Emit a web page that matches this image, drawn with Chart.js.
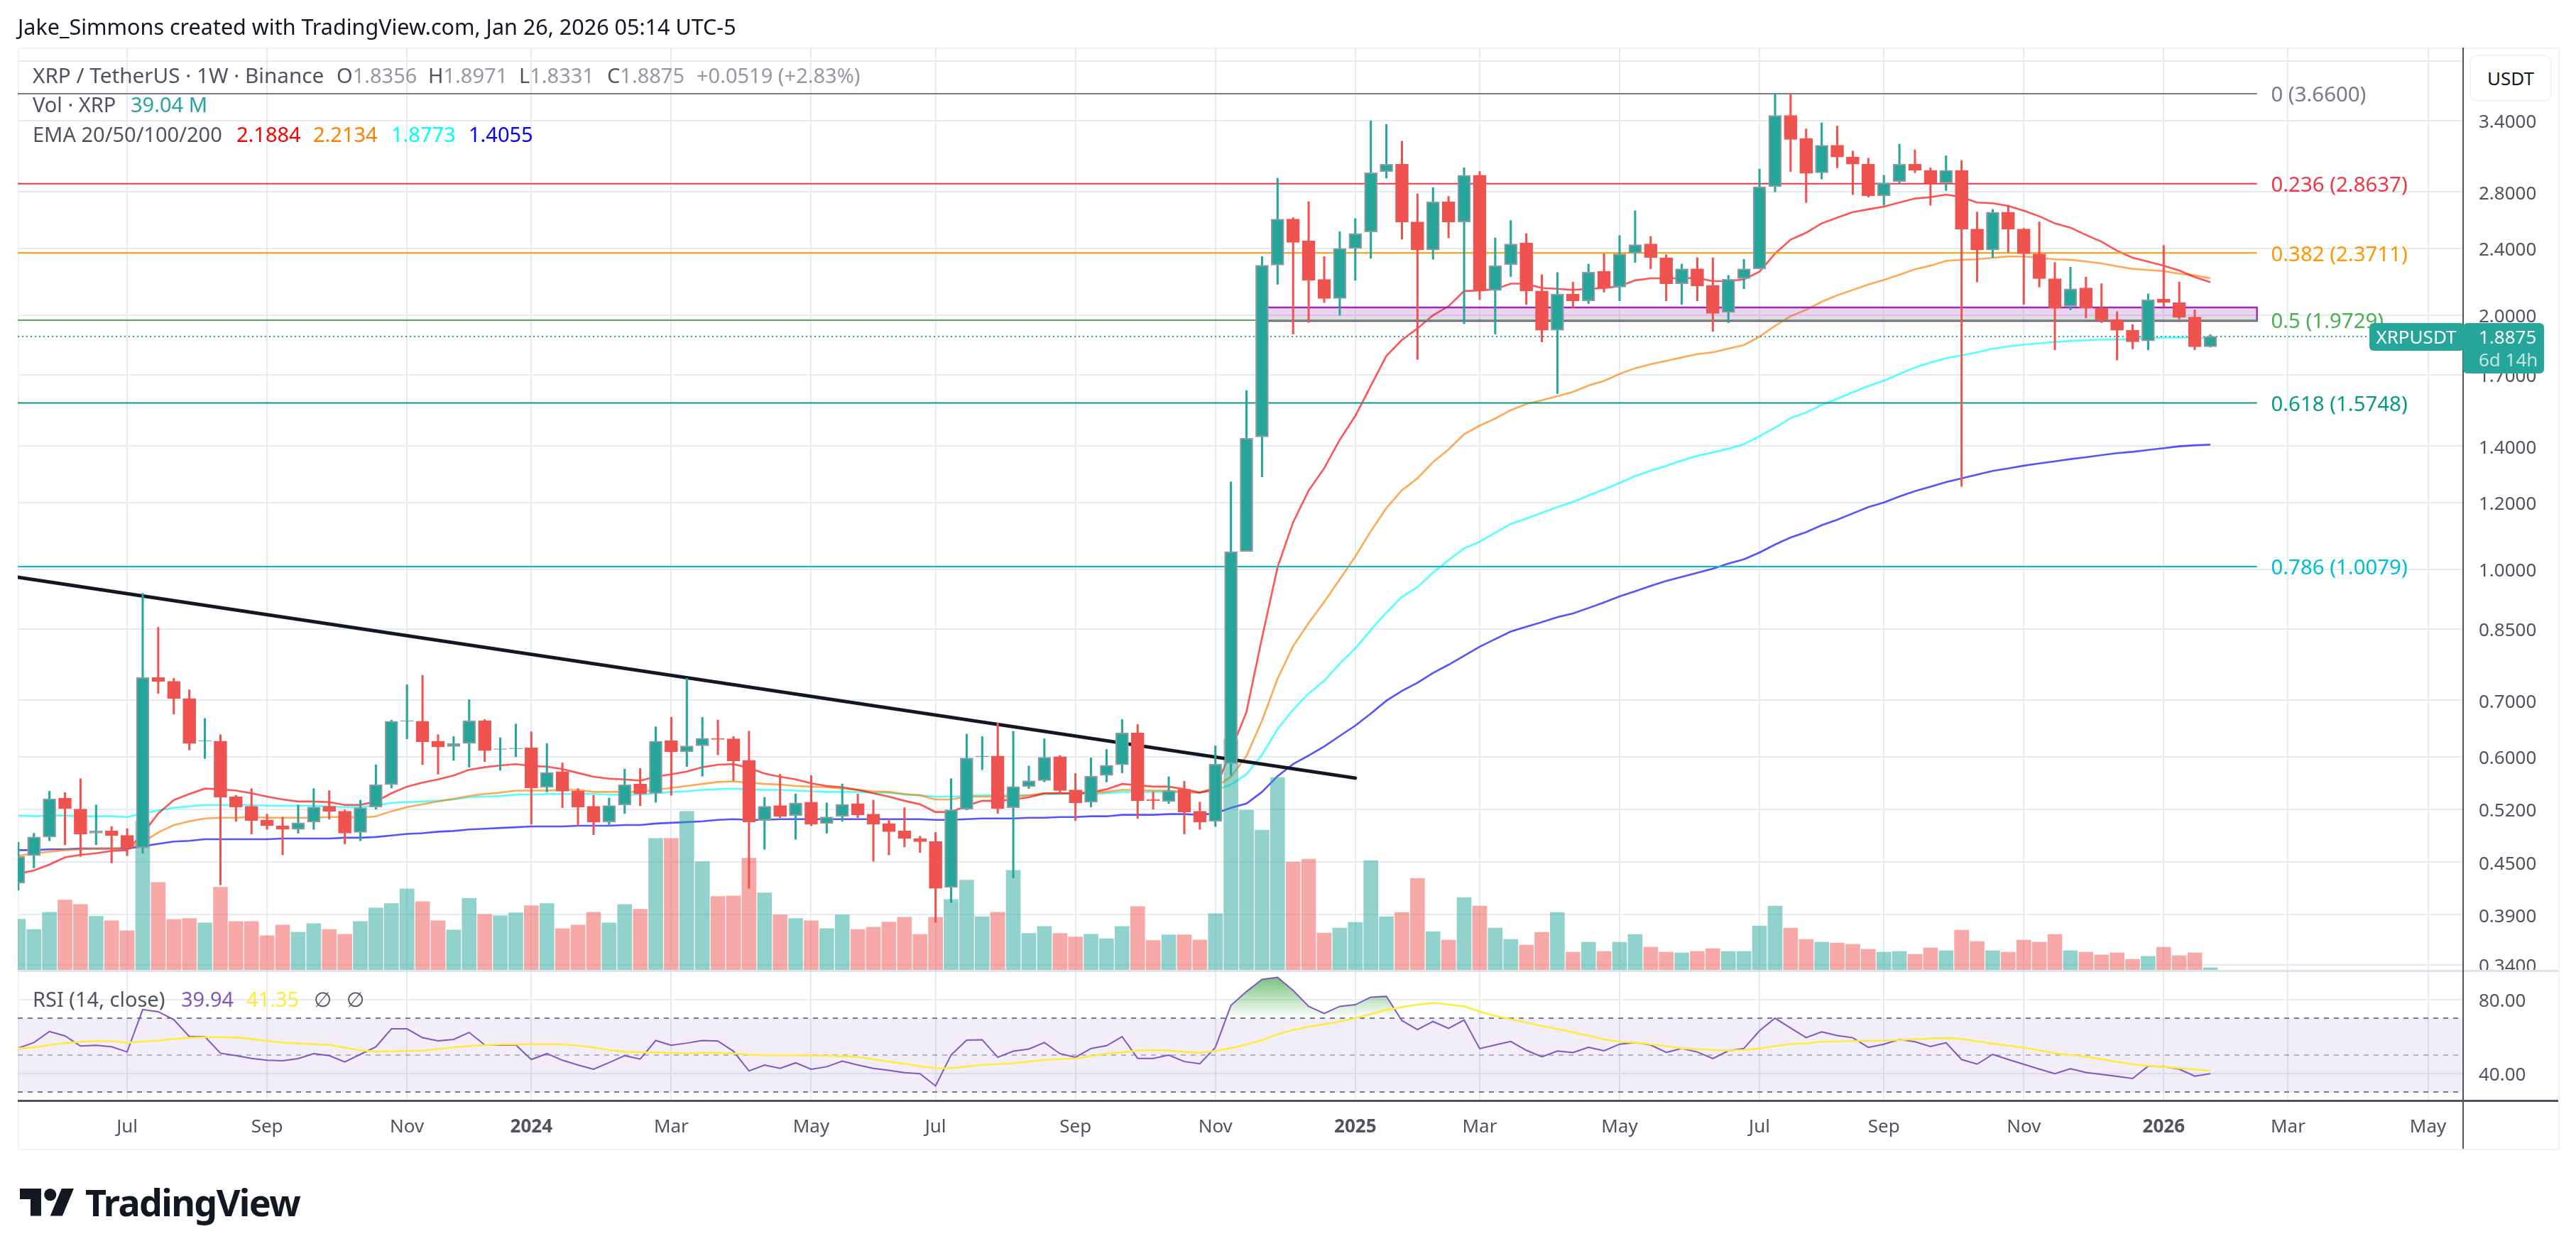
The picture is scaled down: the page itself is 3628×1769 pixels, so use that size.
<!DOCTYPE html>
<html><head><meta charset="utf-8">
<title>XRP / TetherUS</title>
<script src="https://cdn.jsdelivr.net/npm/chart.js@4"></script>
<style>
html,body{margin:0;padding:0;background:#fff;overflow:hidden}
#wrap{position:relative;width:3628px;height:1769px;font-family:"Noto Sans",sans-serif}
canvas{position:absolute;left:0;top:0}
.t{position:absolute;white-space:pre;line-height:1;font-size:29px;color:#50535e}
.g{color:#9598a1}
#frame{position:absolute;left:25px;top:67px;width:3576px;height:1549px;border:2px solid #f0f3fa}
#usdt{position:absolute;left:3478px;top:77px;width:112px;height:62px;background:#fff;border:2px solid #f0f3fa;border-radius:10px;text-align:center;line-height:62px;font-size:26px;color:#131722}
</style></head><body>
<div id="wrap">
<div id="frame"></div>
<canvas id="c" width="3628" height="1769"></canvas>
<div class="t" style="left:25px;top:22px;color:#131722;font-size:30.5px">Jake_Simmons created with TradingView.com, Jan 26, 2026 05:14 UTC-5</div>
<div class="t" style="left:46px;top:91px;font-size:29.7px">XRP / TetherUS · 1W · Binance</div>
<div class="t" style="left:474px;top:91px">O<span class="g">1.8356</span></div>
<div class="t" style="left:603px;top:91px">H<span class="g">1.8971</span></div>
<div class="t" style="left:731px;top:91px">L<span class="g">1.8331</span></div>
<div class="t" style="left:855px;top:91px">C<span class="g">1.8875</span></div>
<div class="t g" style="left:981px;top:91px">+0.0519 (+2.83%)</div>
<div class="t" style="left:46px;top:132px">Vol · XRP</div>
<div class="t" style="left:184px;top:132px;color:#26a69a">39.04 M</div>
<div class="t" style="left:46px;top:174px">EMA 20/50/100/200</div>
<div class="t" style="left:333px;top:174px;color:#ff0000">2.1884</div>
<div class="t" style="left:441px;top:174px;color:#ff7f00">2.2134</div>
<div class="t" style="left:551px;top:174px;color:#00ffff">1.8773</div>
<div class="t" style="left:660px;top:174px;color:#0000ff">1.4055</div>
<div class="t" style="left:46px;top:1392px">RSI (14, close)</div>
<div class="t" style="left:255px;top:1392px;color:#7e57c2">39.94</div>
<div class="t" style="left:347px;top:1392px;color:#ffeb3b">41.35</div>
<div class="t" style="left:442px;top:1392px">∅</div>
<div class="t" style="left:488px;top:1392px">∅</div>
<div id="usdt">USDT</div>
<svg style="position:absolute;left:28px;top:1665px" width="77" height="48" viewBox="0 0 36 22"><path fill="#131722" d="M14 22H7V11H0V4h14v18zM28 22h-8l7.5-18h8L28 22z"/><circle fill="#131722" cx="20" cy="8" r="4"/></svg>
<div class="t" style="left:120px;top:1667px;font-size:52px;font-weight:700;color:#131722;letter-spacing:-1.6px">TradingView</div>
</div>
<script>
const opens=[.425,.458,.482,.536,.520,.487,.490,.484,.468,.745,
.737,.703,.626,.626,.538,.524,.505,.497,.492,.502,
.524,.517,.488,.523,.556,.661,.661,.626,.617,.622,
.662,.612,.613,.615,.552,.576,.546,.524,.502,.526,
.557,.543,.627,.608,.618,.631,.630,.594,.504,.525,
.511,.530,.500,.510,.528,.513,.500,.490,.480,.476,
.420,.520,.600,.601,.522,.553,.562,.600,.548,.530,
.570,.587,.640,.534,.531,.549,.517,.503,.589,1.05,
1.435,2.293,2.60,2.45,2.205,2.094,2.40,2.51,2.96,3.02,
2.58,2.39,2.725,2.58,2.93,2.14,2.295,2.435,2.137,1.92,
2.12,2.08,2.255,2.16,2.37,2.43,2.34,2.18,2.27,2.17,
2.015,2.21,2.27,2.84,3.45,3.24,2.95,3.18,3.08,3.02,
2.77,2.88,3.02,2.97,2.87,2.97,2.53,2.39,2.65,2.53,
2.365,2.21,2.05,2.155,2.04,1.977,1.92,1.865,2.09,2.07,
1.99,1.8356];
const highs=[.475,.487,.546,.544,.565,.526,.496,.493,.937,.854,
.743,.720,.666,.637,.540,.550,.513,.509,.526,.550,
.547,.519,.533,.587,.663,.730,.749,.637,.634,.701,
.664,.632,.656,.642,.622,.590,.550,.540,.536,.580,
.581,.651,.668,.743,.668,.663,.634,.643,.537,.572,
.542,.570,.529,.557,.542,.533,.506,.522,.483,.488,
.565,.638,.634,.658,.643,.585,.630,.602,.573,.598,
.612,.664,.655,.545,.568,.561,.530,.618,1.27,1.629,
2.347,2.907,2.61,2.727,2.347,2.512,2.604,3.399,3.366,3.216,
2.786,2.834,2.766,2.99,2.96,2.47,2.59,2.50,2.234,2.248,
2.19,2.30,2.365,2.486,2.66,2.48,2.36,2.30,2.34,2.34,
2.23,2.33,2.98,3.66,3.65,3.325,3.38,3.35,3.13,3.07,
2.93,3.19,3.14,2.99,3.09,3.05,2.65,2.67,2.70,2.535,
2.58,2.31,2.28,2.22,2.18,2.02,1.95,2.12,2.42,2.19,
2.03,1.8971];
const lows=[.417,.443,.477,.472,.457,.472,.449,.458,.461,.713,
.674,.611,.597,.423,.503,.486,.492,.459,.487,.492,
.506,.473,.477,.520,.551,.630,.587,.572,.594,.583,
.592,.578,.600,.499,.545,.522,.497,.485,.497,.514,
.525,.530,.540,.584,.569,.603,.562,.419,.466,.508,
.479,.497,.487,.503,.508,.451,.459,.469,.462,.382,
.403,.519,.579,.514,.431,.550,.560,.543,.504,.523,
.560,.574,.507,.520,.528,.486,.492,.496,.570,1.05,
1.287,2.176,1.90,1.961,2.07,1.999,2.20,2.336,2.907,2.461,
1.773,2.33,2.47,1.954,2.087,1.90,2.223,2.06,1.86,1.615,
2.04,2.065,2.13,2.08,2.31,2.27,2.08,2.06,2.08,1.914,
1.96,2.15,2.27,2.80,2.96,2.72,2.90,2.99,2.78,2.76,
2.70,2.865,2.95,2.70,2.81,1.254,2.19,2.34,2.375,2.06,
2.16,1.82,2.03,1.985,1.96,1.77,1.825,1.82,2.045,1.98,
1.82,1.8331];
const closes=[.457,.482,.535,.521,.486,.490,.484,.467,.745,.737,
.703,.622,.627,.537,.523,.504,.497,.492,.501,.523,
.517,.487,.522,.556,.661,.662,.625,.616,.622,.662,
.610,.613,.614,.551,.575,.546,.523,.502,.525,.556,
.542,.626,.608,.618,.631,.629,.593,.502,.524,.510,
.529,.499,.509,.527,.512,.499,.489,.480,.476,.419,
.519,.598,.601,.521,.553,.562,.599,.547,.529,.569,
.586,.640,.532,.532,.547,.516,.502,.588,1.05,1.43,
2.293,2.60,2.44,2.20,2.094,2.40,2.50,2.95,3.02,2.58,
2.39,2.725,2.58,2.93,2.14,2.29,2.43,2.137,1.92,2.12,
2.08,2.25,2.154,2.365,2.425,2.34,2.18,2.27,2.166,2.01,
2.206,2.27,2.84,3.45,3.23,2.945,3.18,3.08,3.02,2.77,
2.87,3.02,2.97,2.87,2.97,2.53,2.39,2.65,2.53,2.365,
2.21,2.04,2.15,2.04,1.975,1.92,1.86,2.087,2.07,1.99,
1.835,1.8875];
const ema20=[.436,.440,.447,.456,.459,.461,.464,.465,.486,.514,
.533,.542,.550,.549,.547,.543,.538,.534,.531,.531,
.530,.526,.526,.531,.543,.553,.559,.564,.570,.579,
.583,.586,.588,.585,.584,.580,.574,.568,.565,.564,
.562,.568,.572,.576,.583,.587,.588,.582,.573,.568,
.564,.558,.554,.552,.548,.543,.538,.532,.527,.516,
.516,.525,.532,.532,.534,.537,.543,.543,.543,.544,
.549,.557,.555,.553,.553,.549,.544,.549,.61,.678,
.830,1.006,1.137,1.24,1.318,1.424,1.52,1.65,1.79,1.87,
1.93,2.00,2.05,2.137,2.14,2.147,2.18,2.18,2.154,2.15,
2.143,2.15,2.154,2.165,2.20,2.212,2.212,2.212,2.214,2.195,
2.195,2.206,2.252,2.367,2.458,2.505,2.57,2.61,2.65,2.67,
2.69,2.72,2.75,2.76,2.78,2.76,2.72,2.715,2.695,2.66,
2.62,2.57,2.54,2.49,2.445,2.385,2.34,2.315,2.29,2.26,
2.22,2.1884];
const ema50=[.458,.461,.463,.465,.466,.467,.467,.468,.475,.488,
.498,.503,.507,.508,.508,.509,.508,.508,.508,.508,
.509,.509,.508,.510,.517,.523,.527,.531,.535,.539,
.542,.544,.547,.547,.547,.548,.548,.545,.545,.545,
.545,.548,.551,.554,.557,.560,.561,.559,.557,.556,
.554,.553,.552,.550,.548,.546,.545,.542,.540,.534,
.534,.538,.538,.538,.538,.540,.543,.543,.543,.544,
.545,.548,.548,.547,.547,.545,.544,.552,.568,.601,
.662,.742,.811,.864,.915,.973,1.036,1.11,1.182,1.241,
1.282,1.34,1.387,1.446,1.48,1.509,1.544,1.57,1.586,1.604,
1.623,1.651,1.672,1.704,1.731,1.75,1.766,1.783,1.799,1.808,
1.826,1.844,1.887,1.943,1.995,2.03,2.075,2.112,2.143,2.175,
2.203,2.234,2.267,2.29,2.32,2.327,2.33,2.34,2.348,2.348,
2.34,2.33,2.327,2.316,2.304,2.286,2.27,2.263,2.256,2.24,
2.23,2.2134];
const ema100=[.511,.510,.511,.511,.510,.510,.510,.509,.514,.518,
.522,.524,.526,.526,.526,.526,.525,.525,.525,.525,
.524,.523,.523,.525,.529,.530,.531,.532,.534,.537,
.538,.539,.541,.541,.542,.542,.542,.542,.541,.541,
.541,.543,.545,.546,.548,.549,.550,.549,.548,.548,
.547,.546,.545,.545,.545,.544,.544,.541,.540,.538,
.538,.539,.540,.540,.540,.540,.541,.542,.542,.542,
.543,.545,.545,.545,.545,.544,.544,.547,.556,.572,
.603,.647,.682,.713,.738,.773,.806,.848,.889,.928,
.953,.991,1.026,1.059,1.078,1.105,1.132,1.149,1.167,1.185,
1.202,1.223,1.244,1.266,1.29,1.309,1.326,1.346,1.363,1.376,
1.39,1.407,1.438,1.472,1.511,1.534,1.566,1.593,1.621,1.649,
1.673,1.704,1.735,1.758,1.779,1.793,1.808,1.826,1.837,1.846,
1.853,1.859,1.865,1.868,1.872,1.872,1.874,1.878,1.882,1.882,
1.882,1.8773];
const ema200=[.465,.465,.466,.466,.467,.467,.467,.467,.470,.473,
.476,.477,.479,.479,.479,.479,.479,.480,.480,.480,
.480,.481,.481,.482,.484,.486,.487,.489,.490,.492,
.493,.494,.495,.496,.496,.496,.497,.497,.497,.498,
.498,.500,.501,.502,.503,.505,.506,.505,.505,.506,
.506,.506,.506,.506,.506,.506,.506,.506,.506,.505,
.505,.506,.507,.507,.507,.508,.508,.509,.509,.510,
.510,.512,.512,.512,.513,.513,.512,.514,.522,.528,
.545,.569,.588,.602,.617,.635,.653,.675,.699,.718,
.734,.754,.771,.790,.810,.827,.844,.855,.866,.878,
.887,.90,.914,.929,.942,.956,.969,.98,.991,1.002,
1.016,1.028,1.047,1.07,1.091,1.107,1.128,1.145,1.165,1.185,
1.20,1.22,1.238,1.253,1.269,1.282,1.295,1.308,1.317,1.327,
1.335,1.343,1.351,1.358,1.366,1.373,1.378,1.385,1.392,1.399,
1.403,1.4055];
const volumeM=[930,741,1055,1279,1199,980,900,716,2721,1602,
925,940,861,1512,886,886,627,821,692,846,
741,652,886,1134,1214,1483,1249,900,731,1313,
1015,990,1045,1174,1214,756,821,1055,861,1199,
1109,2408,2408,2900,1980,1343,1353,2045,1408,1005,
940,900,756,1005,741,781,876,965,652,965,
1289,1642,975,1055,1821,667,796,667,602,652,
572,796,1159,537,642,642,547,1030,4225,2925,
2561,3523,1976,2028,676,767,871,2002,975,1053,
1677,702,546,1326,1170,767,559,455,689,1053,
325,507,338,507,650,416,325,312,338,390,
338,338,806,1170,767,559,507,494,468,377,
325,338,286,403,351,728,520,351,325,546,
507,650,351,325,273,312,195,247,416,260,
312,39];
const rsi=[53.8,56.8,62.8,60.4,54.9,55.3,54.5,51.7,74.7,73.5,
69.2,60,60,51,49.7,48.2,47.2,46.9,48.1,50.8,
49.7,46.3,50.4,54.5,64.2,64.2,59.4,57.7,58.5,62.3,
55.5,55.4,55.5,47.6,50.8,47.2,44.6,42.3,45.9,49.7,
47.8,57.9,55.3,56.5,57.9,57.6,52.1,41.4,44.6,42.8,
45.8,42.3,43.7,46.7,44.6,42.8,41.7,40.5,39.9,33.3,
50.1,58.1,58.3,48.8,52.1,53.3,56.8,50.8,48.8,53.6,
55.1,60,48.2,48.2,50,46.5,45.3,54.2,76.9,84.4,
91,92.1,85,76.4,72.6,76.4,77.3,81.4,81.8,68.7,
63.8,68.2,64.5,69,53.5,55.5,57.4,52.6,49.1,52.2,
51.4,54.2,52.3,55.9,56.8,55.5,51.5,53.6,51.7,48.1,
52.3,53.6,63.2,70,64.7,59.5,62.6,60.6,59.4,54.2,
55.9,58.5,57.2,54.6,56.7,47.6,45.1,50.4,47.6,45,
42.4,39.9,42.6,40.6,39.5,38.5,37.3,44,43.7,42.4,
38.6,39.94];
const rsiMa=[53.6,54.2,55.5,56.5,57.2,57.6,57.6,56.7,57.3,57.8,
58.8,59.4,59.7,59.7,59.5,58.7,57.6,56.8,56.3,55.9,
55.6,54,52.6,51.9,52.1,52.2,52.4,53.3,54.2,54.9,
55.4,55.8,55.8,55.9,55.9,55.9,55.1,54.1,52.8,51.8,
51.5,51.4,51.2,50.9,51.2,51.2,50.9,50.3,49.9,49.9,
49.9,49.7,49.6,49.4,49,47.7,46.5,45.3,44,42.9,
42.9,43.8,44.7,45.1,45.6,46.5,47.4,47.8,48.2,49.4,
50.8,51.5,52.4,52.8,52.4,51.8,51.2,52.3,53.8,55.8,
58.1,61.3,63.6,65.4,66.7,68.1,70,72.2,74.5,76,
77.3,78.3,77.4,76.4,73.6,71.3,69.4,67.6,65.8,64.1,
62.3,60.6,58.5,57.2,56.8,55.9,54.9,53.6,53.2,52.8,
52.4,52.8,53.6,54.9,56,56.4,57.2,57.4,57.6,57.7,
57.8,58.2,58.6,59,59.2,58.8,57.4,56.2,55.1,54.1,
52.6,51,50,49.1,47.8,46.3,45,44.2,43.6,42.9,
42.3,41.35];
const priceTicks=[4,3.4,2.8,2.4,2,1.7,1.4,1.2,1,.85,.7,.6,.52,.45,.39,.34];
const rsiTicks=[80,40];
const timeTickIdx=[7,16,25,33,42,51,59,68,77,86,94,103,112,120,129,138,146,155];
const timeTickLabels=["Jul","Sep","Nov","2024","Mar","May","Jul","Sep","Nov","2025","Mar","May","Jul","Sep","Nov","2026","Mar","May"];
const fibRatios=[0,0.236,0.382,0.5,0.618,0.786];
const fibPrices=[3.66,2.8637,2.3711,1.9729,1.5748,1.0079];
const fibColors=["#787b86","#f23645","#ff9800","#4caf50","#089981","#00bcd4"];
const trendStart=[-1,.985], trendEnd=[86,.566];
const zoneIdx=[80,144], zonePrice=[1.9695,2.043];
const lastPrice=1.8875;
const rsiBands=[70,50,30];
const priceRange=[.3348,4.151];

[opens,highs,lows,closes,ema20,ema50,ema100,ema200,volumeM,rsi,rsiMa].forEach((a,k)=>{if(a.length!==142)throw new Error("len "+k+" = "+a.length)});

const UP="#26a69a",DN="#ef5350",FONT='"Noto Sans",sans-serif',GRID="#e3ecf3";
const idx=opens.map((_,i)=>i);
const X0=-0.037,X1=157.26,FIB_END=144;
const isUp=i=>closes[i]>=opens[i];
const series=(arr)=>arr.map((v,i)=>({x:i,y:v}));
const lineDs=(data,color,w,order,axis,extra)=>Object.assign({type:'line',data,borderColor:color,borderWidth:w,pointRadius:0,tension:0,fill:false,order,yAxisID:axis,xAxisID:'x'},extra||{});

const datasets=[];
// RSI pane
datasets.push(lineDs([{x:X0,y:rsiBands[0]},{x:X1,y:rsiBands[0]}],'#787b86',2,60,'yRsi',{borderDash:[7,7],fill:{target:{value:rsiBands[2]},above:'rgba(126,87,194,.1)',below:'rgba(126,87,194,.1)'}}));
datasets.push(lineDs([{x:X0,y:rsiBands[1]},{x:X1,y:rsiBands[1]}],'rgba(120,123,134,.5)',2,59,'yRsi',{borderDash:[7,7]}));
datasets.push(lineDs([{x:X0,y:rsiBands[2]},{x:X1,y:rsiBands[2]}],'#787b86',2,58,'yRsi',{borderDash:[7,7]}));
const rsiDs=lineDs(series(rsi),'#7e57c2',2,57,'yRsi',{fill:{target:{value:70},above:'rgba(76,175,80,.5)',below:'rgba(0,0,0,0)'}});
datasets.push(rsiDs);
datasets.push(lineDs(series(rsiMa),'#ffeb3b',2.6,56,'yRsi'));
// EMAs behind volume
datasets.push(lineDs(series(ema200),'rgba(0,0,255,.67)',2.6,54,'yPrice'));
datasets.push(lineDs(series(ema100),'rgba(0,255,255,.67)',2.6,53,'yPrice'));
datasets.push(lineDs(series(ema50),'rgba(255,127,0,.67)',2.6,52,'yPrice'));
datasets.push(lineDs(series(ema20),'rgba(255,0,0,.67)',2.6,51,'yPrice'));
// zone + fib + last price
datasets.push(lineDs([{x:zoneIdx[0],y:zonePrice[0]},{x:zoneIdx[0],y:zonePrice[1]},{x:zoneIdx[1],y:zonePrice[1]},{x:zoneIdx[1],y:zonePrice[0]},{x:zoneIdx[0],y:zonePrice[0]}],'#9c27b0',2.4,40,'yPrice',{fill:'shape',backgroundColor:'rgba(156,39,176,.2)'}));
fibPrices.forEach((p,k)=>datasets.push(lineDs([{x:-1,y:p},{x:FIB_END,y:p}],fibColors[k],2,39-k,'yPrice')));
datasets.push(lineDs([{x:X0,y:lastPrice},{x:X1,y:lastPrice}],UP,2,30,'yPrice',{borderDash:[2,4]}));
// volume
datasets.push({type:'bar',yAxisID:'yVol',xAxisID:'x',order:20,grouped:false,barThickness:20,
  data:volumeM.map((v,i)=>({x:i,y:v})),backgroundColor:idx.map(i=>isUp(i)?'rgba(38,166,154,.5)':'rgba(239,83,80,.5)')});
// trendline
datasets.push(lineDs([{x:trendStart[0],y:trendStart[1]},{x:trendEnd[0],y:trendEnd[1]}],'#131722',5,15,'yPrice',{borderCapStyle:'round'}));
// candles
datasets.push({type:'bar',yAxisID:'yPrice',xAxisID:'x',order:10,grouped:false,barThickness:2.4,
  data:idx.map(i=>({x:i,y:[lows[i],highs[i]]})),backgroundColor:idx.map(i=>isUp(i)?UP:DN)});
datasets.push({type:'bar',yAxisID:'yPrice',xAxisID:'x',order:5,grouped:false,barThickness:18,borderWidth:2,borderSkipped:false,
  data:idx.map(i=>({x:i,y:[opens[i],closes[i]]})),backgroundColor:idx.map(i=>isUp(i)?UP:DN),borderColor:idx.map(i=>isUp(i)?'#9598a1':DN)});

const overlay={id:'overlay',afterDraw(ch){
  const c=ch.ctx,a=ch.chartArea,xs=ch.scales.x,yp=ch.scales.yPrice,RIGHT=3603;
  c.save();
  // clip price-axis label at the pane border
  c.fillStyle='#fff';c.fillRect(a.right+2,yp.bottom,RIGHT-a.right-3,16);
  // pane separators
  c.fillStyle='#e0e3eb';c.fillRect(a.left,yp.bottom-1,RIGHT-a.left,3);
  c.fillStyle='#50535e';c.fillRect(a.left,a.bottom-1,RIGHT-a.left,3);
  c.fillRect(a.right-1,a.top,2,xs.bottom-a.top);
  // fib labels
  c.textBaseline='middle';c.textAlign='left';c.font='29.4px '+FONT;
  const lx=xs.getPixelForValue(FIB_END+0.9);
  fibPrices.forEach((p,k)=>{c.fillStyle=fibColors[k];c.fillText(fibRatios[k]+' ('+p.toFixed(4)+')',lx,yp.getPixelForValue(p)+3)});
  // last price tag
  const py=yp.getPixelForValue(lastPrice);
  c.fillStyle=UP;
  c.beginPath();c.roundRect(a.right-132,py-19,134,39,6);c.fill();
  c.beginPath();c.roundRect(a.right,py-19,114,71,6);c.fill();
  c.fillStyle='#fff';c.font='26px '+FONT;c.textAlign='center';c.fillText('XRPUSDT',a.right-66,py+3);
  c.textAlign='left';c.fillText(lastPrice.toFixed(4),a.right+22,py+3);
  c.fillStyle='rgba(255,255,255,.72)';c.fillText('6d 14h',a.right+22,py+35);
  c.restore();
}};

const ticksFont={family:FONT,size:26};
const yCommon={position:'right',grid:{color:GRID,lineWidth:2,drawTicks:false},border:{display:false},
  ticks:{autoSkip:false,font:ticksFont,color:'#50535e',padding:22,crossAlign:'near',labelOffset:3},afterFit(s){s.width=134}};

const chart=new Chart(document.getElementById('c'),{
  type:'bar',
  data:{datasets},
  plugins:[overlay],
  options:{responsive:false,animation:false,devicePixelRatio:1,events:[],
    layout:{autoPadding:false,padding:{left:25,top:67,right:25,bottom:151}},
    plugins:{legend:{display:false},tooltip:{enabled:false},title:{display:false}},
    scales:{
      x:{type:'linear',min:X0,max:X1,offset:false,
        grid:{color:GRID,lineWidth:2,offset:false,drawTicks:false},border:{display:false},
        afterBuildTicks(s){s.ticks=timeTickIdx.map(v=>({value:v}))},
        afterFit(s){s.height=68},
        ticks:{autoSkip:false,maxRotation:0,minRotation:0,padding:22,color:'#50535e',
          font:c=>({family:FONT,size:26,weight:/^\d/.test(timeTickLabels[c.index]||'')?'700':'400'}),
          callback:(v,i)=>timeTickLabels[i]}},
      yPrice:Object.assign({},yCommon,{type:'logarithmic',stack:'panes',stackWeight:1300,weight:1,min:priceRange[0],max:priceRange[1],
        afterBuildTicks(s){s.ticks=priceTicks.map(v=>({value:v}));s.min=priceRange[0];s.max=priceRange[1]},
        ticks:Object.assign({},yCommon.ticks,{callback:v=>Number(v).toFixed(4)})}),
      yRsi:Object.assign({},yCommon,{type:'linear',stack:'panes',stackWeight:183,weight:2,min:25.38,max:95.8,
        afterBuildTicks(s){s.ticks=rsiTicks.map(v=>({value:v}))},
        ticks:Object.assign({},yCommon.ticks,{callback:v=>Number(v).toFixed(2)})}),
      yVol:{type:'linear',display:false,position:'right',weight:3,min:-2392,max:16887}
    }
  }
});
// green overbought gradient, from the RSI scale
const yr=chart.scales.yRsi, g=chart.ctx.createLinearGradient(0,yr.getPixelForValue(92),0,yr.getPixelForValue(70));
g.addColorStop(0,'rgba(76,175,80,.75)');g.addColorStop(1,'rgba(76,175,80,0)');
rsiDs.fill.above=g;chart.update('none');
</script>
</body></html>
